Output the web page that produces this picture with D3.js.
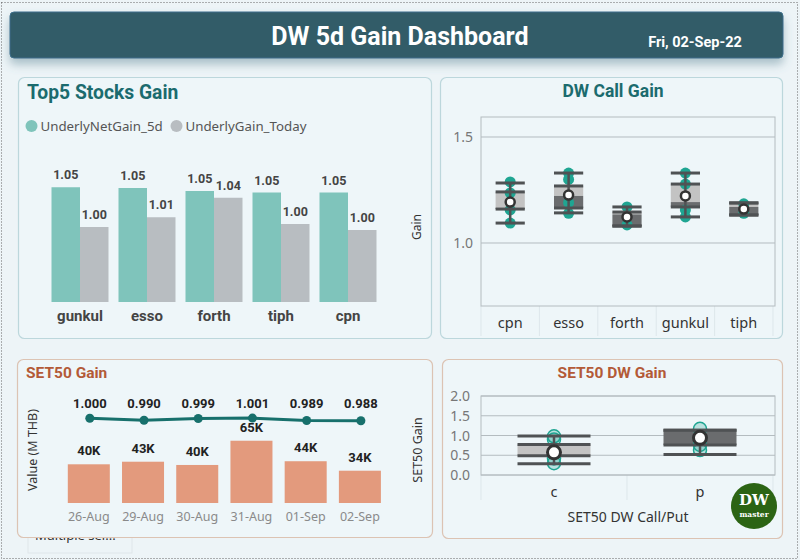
<!DOCTYPE html>
<html><head><meta charset="utf-8">
<script src="https://cdn.jsdelivr.net/npm/d3@7"></script>
<style>
body{margin:0;background:#edf4f7;}
svg{display:block;font-family:Roboto,"Noto Sans",sans-serif;}
</style>
</head><body>
<svg id="c" width="800" height="560"></svg>
<script>
// ---------- DATA ----------
const dashTitle = "DW 5d Gain Dashboard";
const dashDate = "Fri, 02-Sep-22";

const topStocks = ["gunkul", "esso", "forth", "tiph", "cpn"];
const netGain5d = [1.053, 1.052, 1.048, 1.046, 1.046];
const gainToday = [1.000, 1.013, 1.039, 1.004, 0.996];
const legendNames = ["UnderlyNetGain_5d", "UnderlyGain_Today"];

const callCats  = ["cpn", "esso", "forth", "gunkul", "tiph"];
const callMin   = [1.094, 1.142, 1.080, 1.123, 1.132];
const callQ1    = [1.160, 1.165, 1.080, 1.170, 1.132];
const callMed   = [1.165, 1.222, 1.135, 1.193, 1.170];
const callQ3    = [1.241, 1.269, 1.146, 1.278, 1.189];
const callMax   = [1.283, 1.330, 1.170, 1.330, 1.189];
const callMean  = [1.193, 1.226, 1.123, 1.222, 1.160];
const callPoints = [
  [1.288, 1.236, 1.156, 1.094],
  [1.330, 1.300, 1.190, 1.140],
  [1.170, 1.085],
  [1.330, 1.278, 1.156, 1.123],
  [1.185, 1.140]
];
const callTicks = [1.0, 1.5];

const setDates = ["26-Aug", "29-Aug", "30-Aug", "31-Aug", "01-Sep", "02-Sep"];
const setValue = [40400, 43100, 39700, 65000, 43600, 33700];
const setGain  = [1.000, 0.990, 0.999, 1.001, 0.989, 0.988];

const cpCats  = ["c", "p"];
const cpMin   = [0.285, 0.520];
const cpQ1    = [0.487, 0.758];
const cpMed   = [0.490, 1.100];
const cpQ3    = [0.775, 1.136];
const cpMax   = [0.985, 1.136];
const cpMean  = [0.573, 0.940];
const cpPoints = [
  [0.980, 0.900, 0.420, 0.300],
  [1.170, 0.930, 0.760, 0.630]
];
const cpTicks = [0.0, 0.5, 1.0, 1.5, 2.0];

// ---------- DRAW ----------
const svg = d3.select("#c");
const TEAL_T = "#1b6b6e", RUST = "#b35a37";
const DOT = "#1fa592", DARK = "#4f5254", LIGHT = "#c3c3c3";
const defs = svg.append("defs");
const f = defs.append("filter").attr("id","sh").attr("x","-5%").attr("y","-30%").attr("width","110%").attr("height","180%");
f.append("feDropShadow").attr("dx",0).attr("dy",6).attr("stdDeviation",5).attr("flood-color","#58808f").attr("flood-opacity",0.45);

svg.append("rect").attr("width",800).attr("height",560).attr("fill","#edf4f7");
svg.append("rect").attr("x",1.5).attr("y",2.5).attr("width",796).attr("height",556)
  .attr("fill","none").attr("stroke","#666").attr("stroke-dasharray","1,2");

// title bar
svg.append("rect").attr("x",10).attr("y",12).attr("width",773).attr("height",46).attr("rx",4)
  .attr("fill","#335b67").attr("stroke","#3d6f8c").attr("filter","url(#sh)");
svg.append("text").attr("x",400).attr("y",45).attr("text-anchor","middle")
  .attr("fill","#fff").attr("font-weight","bold").attr("font-size",25).text(dashTitle);
svg.append("text").attr("x",695).attr("y",46.5).attr("text-anchor","middle")
  .attr("fill","#fff").attr("font-weight","bold").attr("font-size",14.5).text(dashDate);

// slicer text partially hidden under panel
svg.append("rect").attr("x",28).attr("y",525).attr("width",104).attr("height",28)
  .attr("fill","none").attr("stroke","#dfe6ea");
svg.append("text").attr("x",35).attr("y",540).attr("font-size",13).attr("fill","#333")
  .attr("font-family","'Noto Sans',sans-serif").text("Multiple sel... \u02C5");

// panels
function panel(x,y,w,h,stroke){
  svg.append("rect").attr("x",x+0.5).attr("y",y+0.5).attr("width",w).attr("height",h).attr("rx",6)
    .attr("fill","#eef6f9").attr("stroke",stroke).attr("stroke-width",1.2);
}
panel(18,77,413,261,"#bcd7dc");
panel(440,77,342,261,"#bcd7dc");
panel(17,359,415,178,"#dcc3b3");
panel(442,359,340,179,"#dcc3b3");

const NS = "'Noto Sans',sans-serif";

// ===== Top5 Stocks Gain =====
svg.append("text").attr("x",27).attr("y",99).attr("font-size",19.3).attr("font-weight","bold")
  .attr("fill",TEAL_T).text("Top5 Stocks Gain");
const legColors = ["#7fc4bb","#b8bdc1"];
const legX = [31.5, 176.5];
legendNames.forEach((n,i)=>{
  svg.append("circle").attr("cx",legX[i]).attr("cy",126).attr("r",6).attr("fill",legColors[i]);
  svg.append("text").attr("x",legX[i]+9).attr("y",131).attr("font-size",13.3)
    .attr("font-family",NS).attr("fill","#555").text(n);
});
const xs = d3.scaleBand().domain(topStocks).range([46.5,381.5]).paddingInner(0).paddingOuter(0);
const bw = 28.5;
const ys = d3.scaleLinear().domain([0.9,1.1]).range([302,152]);
const series = [netGain5d, gainToday];
series.forEach((vals,si)=>{
  const g = svg.append("g");
  g.selectAll("rect").data(topStocks).join("rect")
    .attr("x",d=>xs(d)+xs.bandwidth()/2 - bw + si*bw)
    .attr("width",bw)
    .attr("y",(d,i)=>ys(vals[i]))
    .attr("height",(d,i)=>ys(0.9)-ys(vals[i]))
    .attr("fill",legColors[si]);
  g.selectAll("text").data(topStocks).join("text")
    .attr("x",d=>xs(d)+xs.bandwidth()/2 - bw/2 + si*bw)
    .attr("y",(d,i)=>ys(vals[i])-8)
    .attr("text-anchor","middle").attr("font-size",12.5).attr("font-weight","bold").attr("fill","#444")
    .text((d,i)=>d3.format(".2f")(vals[i]));
});
svg.append("g").selectAll("text").data(topStocks).join("text")
  .attr("x",d=>xs(d)+xs.bandwidth()/2).attr("y",321)
  .attr("text-anchor","middle").attr("font-size",15).attr("font-weight","bold").attr("fill","#444")
  .text(d=>d);
svg.append("text").attr("transform","translate(421,227) rotate(-90)").attr("text-anchor","middle")
  .attr("font-size",12).attr("font-family",NS).attr("fill","#333").text("Gain");

// ===== DW Call Gain (box plot) =====
svg.append("text").attr("x",613).attr("y",97).attr("text-anchor","middle").attr("font-size",17.5)
  .attr("font-weight","bold").attr("fill",TEAL_T).text("DW Call Gain");
const bx = d3.scaleBand().domain(callCats).range([481,773]);
const by = d3.scaleLinear().domain([0.7028,1.5943]).range([306,117]);
// separators
svg.append("g").selectAll("line").data(callCats.concat(["_end"])).join("line")
  .attr("x1",(d,i)=>481+i*bx.step()).attr("x2",(d,i)=>481+i*bx.step())
  .attr("y1",306).attr("y2",336).attr("stroke","#dde7eb");
svg.append("g").selectAll("line").data(callTicks).join("line")
  .attr("x1",481).attr("x2",775).attr("y1",d=>by(d)).attr("y2",d=>by(d)).attr("stroke","#b4bcc0");
svg.append("rect").attr("x",481).attr("y",117).attr("width",294).attr("height",189)
  .attr("fill","none").attr("stroke","#b4bcc0");
svg.append("g").selectAll("text").data(callTicks).join("text")
  .attr("x",473).attr("y",d=>by(d)+5).attr("text-anchor","end").attr("font-size",14)
  .attr("font-family",NS).attr("fill","#777").text(d=>d3.format(".1f")(d));
svg.append("g").selectAll("text").data(callCats).join("text")
  .attr("x",d=>bx(d)+bx.bandwidth()/2).attr("y",328).attr("text-anchor","middle")
  .attr("font-size",14.5).attr("font-family",NS).attr("fill","#333").text(d=>d);

function boxes(cats, xsc, ysc, mn, q1, md, q3, mx, mean, pts, opt){
  const w = xsc.bandwidth()*opt.wf;
  cats.forEach((c,i)=>{
    const cx = xsc(c)+xsc.bandwidth()/2;
    const g = svg.append("g");
    g.append("rect").attr("x",cx-w/2).attr("width",w).attr("y",ysc(q3[i])).attr("height",ysc(md[i])-ysc(q3[i])).attr("fill",LIGHT);
    g.append("rect").attr("x",cx-w/2).attr("width",w).attr("y",ysc(md[i])).attr("height",ysc(q1[i])-ysc(md[i])).attr("fill","#6a6c6e");
    g.selectAll("circle.p").data(pts[i]).join("circle").attr("class","p")
      .attr("cx",cx).attr("cy",d=>ysc(d)).attr("r",opt.pr)
      .attr("fill",DOT).attr("fill-opacity",opt.po).attr("stroke",opt.ps).attr("stroke-width",opt.psw);
    g.append("line").attr("x1",cx).attr("x2",cx).attr("y1",ysc(mx[i])).attr("y2",ysc(mn[i])).attr("stroke",DARK).attr("stroke-width",2.5);
    [mn[i],q1[i],q3[i],mx[i]].forEach(v=>{
      g.append("line").attr("x1",cx-w/2).attr("x2",cx+w/2).attr("y1",ysc(v)).attr("y2",ysc(v))
        .attr("stroke",DARK).attr("stroke-width",3);
    });
    g.append("circle").attr("cx",cx).attr("cy",ysc(mean[i])).attr("r",opt.mr)
      .attr("fill","#fff").attr("stroke","#333").attr("stroke-width",opt.msw);
  });
}
boxes(callCats,bx,by,callMin,callQ1,callMed,callQ3,callMax,callMean,callPoints,
  {wf:0.5,pr:5.5,po:1,ps:"none",psw:0,mr:4.5,msw:2.5});

// ===== SET50 Gain =====
svg.append("text").attr("x",26).attr("y",378).attr("font-size",15.5).attr("font-weight","bold")
  .attr("fill",RUST).text("SET50 Gain");
const sx = d3.scaleBand().domain(setDates).range([61.7,387]).paddingInner(0.225).paddingOuter(0.1125);
const sy = d3.scaleLinear().domain([0,100000]).range([503,407.2]);
const ly = d3.scaleLinear().domain([0.5,1.1]).range([518.3,398.3]);
svg.append("g").selectAll("rect").data(setDates).join("rect")
  .attr("x",d=>sx(d)).attr("width",sx.bandwidth())
  .attr("y",(d,i)=>sy(setValue[i])).attr("height",(d,i)=>sy(0)-sy(setValue[i]))
  .attr("fill","#e39a7d");
svg.append("g").selectAll("text").data(setDates).join("text")
  .attr("x",d=>sx(d)+sx.bandwidth()/2).attr("y",(d,i)=>sy(setValue[i])-9)
  .attr("text-anchor","middle").attr("font-size",13).attr("font-weight","bold").attr("fill","#222")
  .text((d,i)=>Math.round(setValue[i]/1000)+"K");
svg.append("g").selectAll("text").data(setDates).join("text")
  .attr("x",d=>sx(d)+sx.bandwidth()/2).attr("y",521)
  .attr("text-anchor","middle").attr("font-size",12.5).attr("font-family",NS).attr("fill","#8a8a8a")
  .text(d=>d);
const lineGen = d3.line().x((d,i)=>sx(setDates[i])+sx.bandwidth()/2+1).y(d=>ly(d));
svg.append("path").datum(setGain).attr("d",lineGen).attr("fill","none").attr("stroke","#17706c").attr("stroke-width",3);
svg.append("g").selectAll("circle").data(setGain).join("circle")
  .attr("cx",(d,i)=>sx(setDates[i])+sx.bandwidth()/2+1).attr("cy",d=>ly(d)).attr("r",4.5).attr("fill","#17706c");
svg.append("g").selectAll("text").data(setGain).join("text")
  .attr("x",(d,i)=>sx(setDates[i])+sx.bandwidth()/2+1).attr("y",407.5)
  .attr("text-anchor","middle").attr("font-size",13).attr("font-weight","bold").attr("fill","#222")
  .text(d=>d3.format(".3f")(d));
svg.append("text").attr("transform","translate(37,450) rotate(-90)").attr("text-anchor","middle")
  .attr("font-size",12.5).attr("font-family",NS).attr("fill","#333").text("Value (M THB)");
svg.append("text").attr("transform","translate(422,450) rotate(-90)").attr("text-anchor","middle")
  .attr("font-size",12.5).attr("font-family",NS).attr("fill","#333").text("SET50 Gain");

// ===== SET50 DW Gain =====
svg.append("text").attr("x",612).attr("y",378).attr("text-anchor","middle").attr("font-size",15.5)
  .attr("font-weight","bold").attr("fill",RUST).text("SET50 DW Gain");
const px = d3.scaleBand().domain(cpCats).range([481,773]);
const py = d3.scaleLinear().domain([0,2]).range([475,396]);
svg.append("g").selectAll("line").data([0,1,2]).join("line")
  .attr("x1",d=>481+d*px.step()).attr("x2",d=>481+d*px.step())
  .attr("y1",475).attr("y2",500).attr("stroke","#dde7eb");
svg.append("g").selectAll("line").data(cpTicks).join("line")
  .attr("x1",481).attr("x2",775).attr("y1",d=>py(d)).attr("y2",d=>py(d)).attr("stroke","#b4bcc0");
svg.append("rect").attr("x",481).attr("y",396).attr("width",294).attr("height",79)
  .attr("fill","none").attr("stroke","#b4bcc0");
svg.append("g").selectAll("text").data(cpTicks).join("text")
  .attr("x",470).attr("y",d=>py(d)+5).attr("text-anchor","end").attr("font-size",14)
  .attr("font-family",NS).attr("fill","#777").text(d=>d3.format(".1f")(d));
svg.append("g").selectAll("text").data(cpCats).join("text")
  .attr("x",d=>px(d)+px.bandwidth()/2).attr("y",497).attr("text-anchor","middle")
  .attr("font-size",14.5).attr("font-family",NS).attr("fill","#333").text(d=>d);
svg.append("text").attr("x",628).attr("y",522).attr("text-anchor","middle")
  .attr("font-size",14).attr("font-family",NS).attr("fill","#333").text("SET50 DW Call/Put");
boxes(cpCats,px,py,cpMin,cpQ1,cpMed,cpQ3,cpMax,cpMean,cpPoints,
  {wf:0.5,pr:6.5,po:0.25,ps:DOT,psw:1.5,mr:6.5,msw:3});

// logo
svg.append("circle").attr("cx",754).attr("cy",506).attr("r",23).attr("fill","#2c6414");
svg.append("text").attr("x",754).attr("y",505).attr("text-anchor","middle").attr("fill","#fff")
  .attr("font-family","'DejaVu Serif',serif").attr("font-weight","bold").attr("font-size",15).text("DW");
svg.append("text").attr("x",754).attr("y",517).attr("text-anchor","middle").attr("fill","#fff")
  .attr("font-family","'DejaVu Serif',serif").attr("font-weight","bold").attr("font-size",7.5).text("master");
</script>
</body></html>
